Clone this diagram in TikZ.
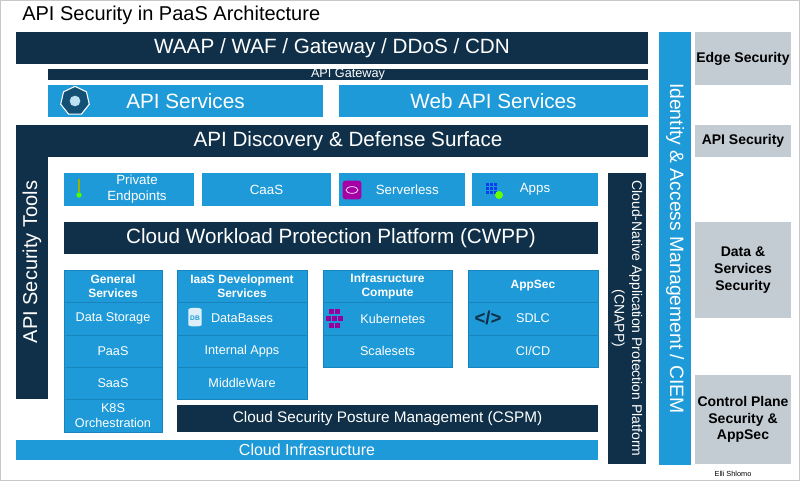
\documentclass[tikz,border=0pt]{standalone}
\usepackage{fontspec}
\setmainfont{Liberation Sans}
\usetikzlibrary{shapes.geometric}
\definecolor{navy}{HTML}{0F3048}
\definecolor{sky}{HTML}{1E9AD8}
\definecolor{skyline}{HTML}{1784BD}
\definecolor{greyb}{HTML}{C3CBD3}
\definecolor{frame}{HTML}{C8C8C8}
\newcommand\mybx[7]{\node[#1,minimum width={(#5-#3)*0.75pt},minimum height={(#6-#4)*0.75pt}] (#2) at ({(#3+#5)/2},{(#4+#6)/2}) {#7};}
\begin{document}
\begin{tikzpicture}[x=0.75pt,y=-0.75pt,
  base/.style={inner sep=0pt,outer sep=0pt,align=center,text=white},
  dark/.style={base,fill=navy},
  blue/.style={base,fill=sky},
  cell/.style={base,fill=sky,draw=skyline,line width=0.6pt,font=\fontsize{9.5}{11}\selectfont},
  head/.style={cell,font=\bfseries\fontsize{9}{10.5}\selectfont},
  grey/.style={base,fill=greyb,text=black,font=\bfseries\fontsize{10.5}{12.5}\selectfont},
  big/.style={font=\fontsize{15.5}{18}\selectfont},
  mid/.style={font=\fontsize{10}{12}\selectfont}]
\useasboundingbox (0,0) rectangle (800,481);
\draw[frame,line width=0.8pt] (0.5,0.5) rectangle (799.5,480.5);
\node[anchor=west,inner sep=0pt,font=\fontsize{15}{17}\selectfont] (title) at (22,15) {API Security in PaaS Architecture};
\mybx{dark,big}{waap}{16}{32}{648}{64}{WAAP / WAF / Gateway / DDoS / CDN}
\mybx{dark,font=\fontsize{9.5}{10}\selectfont}{gw}{48}{69}{648}{80}{API Gateway}
\mybx{blue,big}{apis}{48}{85}{323}{117}{API Services}
\mybx{blue,big}{webapi}{339}{85}{648}{117}{Web API Services}
\mybx{dark}{tools}{16}{125}{48}{399}{}
\node[rotate=90,text=white,font=\fontsize{15}{18}\selectfont] (toolst) at (tools) {API Security Tools};
\mybx{dark,big}{disc}{48}{125}{648}{157}{API Discovery \& Defense Surface}
\mybx{blue,mid}{pe}{64}{173}{194}{206}{\hspace*{12pt}Private\\\hspace*{12pt}Endpoints}
\mybx{blue,mid}{caas}{202}{173}{331}{206}{CaaS}
\mybx{blue,mid}{srv}{339}{173}{465}{206}{\hspace*{8pt}Serverless}
\mybx{blue,mid}{apps}{472}{173}{598}{206}{Apps}
\mybx{dark,big}{cwpp}{64}{222}{598}{254}{Cloud Workload Protection Platform (CWPP)}
% General services
\mybx{head}{gs}{64}{270}{162}{302}{General\\Services}
\mybx{cell}{ds}{64}{302}{162}{335}{Data Storage}
\mybx{cell}{paas}{64}{335}{162}{367}{PaaS}
\mybx{cell}{saas}{64}{367}{162}{399}{SaaS}
\mybx{cell}{k8s}{64}{399}{162}{432}{K8S\\Orchestration}
% IaaS
\mybx{head}{iaas}{177}{270}{307}{302}{IaaS Development\\Services}
\mybx{cell}{db}{177}{302}{307}{335}{DataBases}
\mybx{cell}{ia}{177}{335}{307}{367}{Internal Apps}
\mybx{cell}{mw}{177}{367}{307}{399}{MiddleWare}
% Infra compute
\mybx{head}{ic}{323}{270}{452}{302}{Infrasructure\\Compute}
\mybx{cell}{kube}{323}{302}{452}{335}{\hspace*{8pt}Kubernetes}
\mybx{cell}{scale}{323}{335}{452}{367}{Scalesets}
% AppSec
\mybx{head}{as}{468}{270}{598}{302}{AppSec}
\mybx{cell}{sdlc}{468}{302}{598}{335}{SDLC}
\mybx{cell}{cicd}{468}{335}{598}{367}{CI/CD}
\mybx{dark,font=\fontsize{11.5}{14}\selectfont}{cspm}{177}{405}{598}{432}{Cloud Security Posture Management (CSPM)}
\mybx{blue,font=\fontsize{12}{14}\selectfont}{cinf}{16}{440}{598}{460}{Cloud Infrasructure}
\mybx{dark}{cnapp}{608}{173}{646}{464}{}
\node[rotate=-90,text=white,align=center,font=\fontsize{10.5}{13}\selectfont] (cnappt) at (cnapp) {Cloud-Native Application Protection Platform\\(CNAPP)};
\mybx{blue}{iam}{659}{32}{691}{465}{}
\node[rotate=-90,text=white,font=\fontsize{14.5}{17}\selectfont] (iamt) at (iam) {Identity \& Access Management / CIEM};
\mybx{grey}{edge}{695}{32}{791}{85}{Edge Security}
\mybx{grey}{apisec}{695}{125}{791}{157}{API Security}
\mybx{grey}{dss}{695}{222}{791}{318}{Data \&\\Services\\Security}
\mybx{grey}{cps}{695}{375}{791}{464}{Control Plane\\Security \&\\AppSec}
\node[font=\fontsize{5.5}{6}\selectfont] (auth) at (733,474) {Elli Shlomo};
% icons
\node[regular polygon,regular polygon sides=7,fill=navy!70!sky,draw=white,line width=0.8pt,minimum size=22pt,inner sep=0pt] (hex) at (75,101) {};
\node[circle,fill=white!70!sky,minimum size=8pt,inner sep=0pt] (hexc) at (hex) {};
\coordinate (peA) at (79,179);
\node[circle,fill=green!70!yellow,minimum size=4pt,inner sep=0pt] (ped) at (79,195) {};
\draw[orange!60!green,line width=0.8pt] (peA) -- (ped);
\node[fill=violet!70!magenta,rounded corners=2pt,minimum size=14pt,inner sep=0pt] (svi) at (352,190) {};
\node[draw=white,ellipse,minimum width=9pt,minimum height=5pt,inner sep=0pt,line width=0.5pt] (svc) at (svi) {};
\foreach \i in {0,1,2}\foreach \j in {0,1,2}{\fill[blue!60!sky] ({486+\i*4},{183+\j*4}) rectangle ++(3,3);}
\node[circle,fill=green!60!yellow,minimum size=6pt,inner sep=0pt] (appd) at (499,195) {};
\node[cylinder,shape border rotate=90,aspect=0.3,fill=white!85!sky,minimum width=10pt,minimum height=14pt,inner sep=0pt,font=\bfseries\fontsize{5}{5}\selectfont,text=sky] (dbi) at (195,318) {DB};
\foreach \p in {(331,311),(337,311),(328,318),(334,318),(340,318),(331,325),(337,325)}{\fill[violet!80!magenta] \p ++(-2.5,-2.5) rectangle ++(5,5);}
\node[text=navy,font=\bfseries\fontsize{14}{14}\selectfont] (code) at (488,318) {</>};
\end{tikzpicture}
\end{document}
